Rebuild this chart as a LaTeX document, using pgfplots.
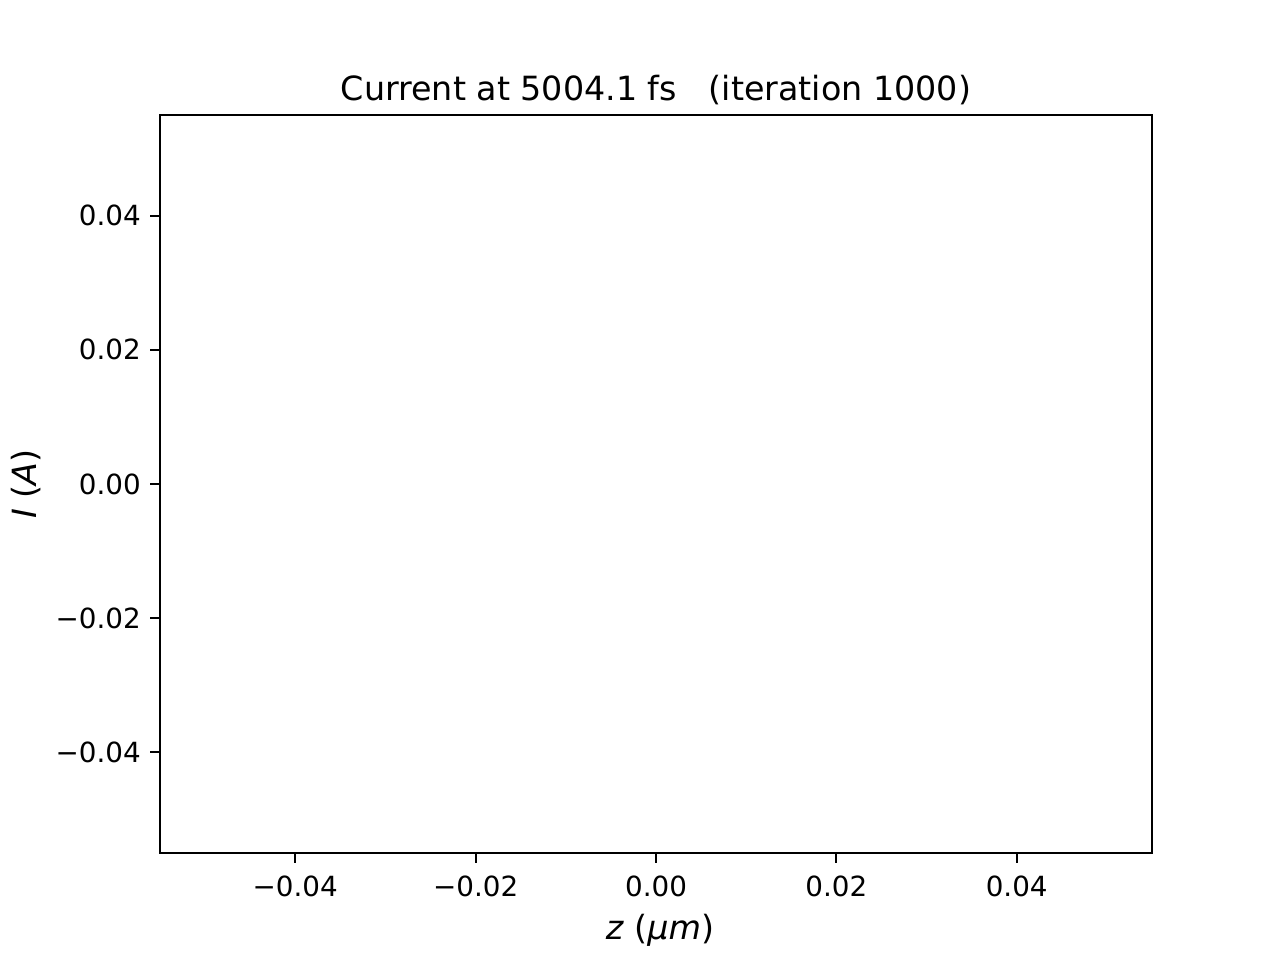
\documentclass[border=0pt]{standalone}
\usepackage{fontspec}
\setmainfont{DejaVu Sans}
\usepackage{pgfplots}
\pgfplotsset{compat=1.18}
\begin{document}
\begin{tikzpicture}[x=1pt,y=1pt]
\path[use as bounding box] (0,0) rectangle (460.8,345.6);
\begin{axis}[
  at={(57.6pt,38.52pt)}, anchor=south west,
  scale only axis, width=357.12pt, height=265.68pt,
  xmin=-0.055, xmax=0.055, ymin=-0.055, ymax=0.055,
  scaled ticks=false,
  axis line style={line width=0.8pt},
  tick style={line width=0.8pt, black},
  tick align=outside, major tick length=3.5pt,
  xtick={-0.04,-0.02,0,0.02,0.04},
  ytick={-0.04,-0.02,0,0.02,0.04},
  xticklabels={−0.04,−0.02,0.00,0.02,0.04},
  yticklabels={−0.04,−0.02,0.00,0.02,0.04},
  xtick pos=bottom, ytick pos=left,
  ticklabel style={font=\fontsize{10}{12}\selectfont},
  xticklabel style={inner sep=0pt, anchor=north, yshift=-4.5pt},
  yticklabel style={inner sep=0pt, anchor=east, xshift=-3.2pt},
  every axis title shift=0pt,
  title={Current at 5004.1 fs\ \ \ (iteration 1000)},
  title style={font=\fontsize{12}{14}\selectfont, at={(0.5,1)}, anchor=south, inner sep=0pt, yshift=3.4pt},
  xlabel={\textit{z} (\textit{μm})},
  ylabel={\textit{I} (\textit{A})},
  label style={font=\fontsize{12}{14}\selectfont},
  xlabel style={inner sep=0pt, at={(axis description cs:0.504,-0.1043)}, anchor=center},
  ylabel style={inner sep=0pt, at={(axis description cs:-0.135,0.5)}, anchor=center},
]
\end{axis}
\end{tikzpicture}
\end{document}
